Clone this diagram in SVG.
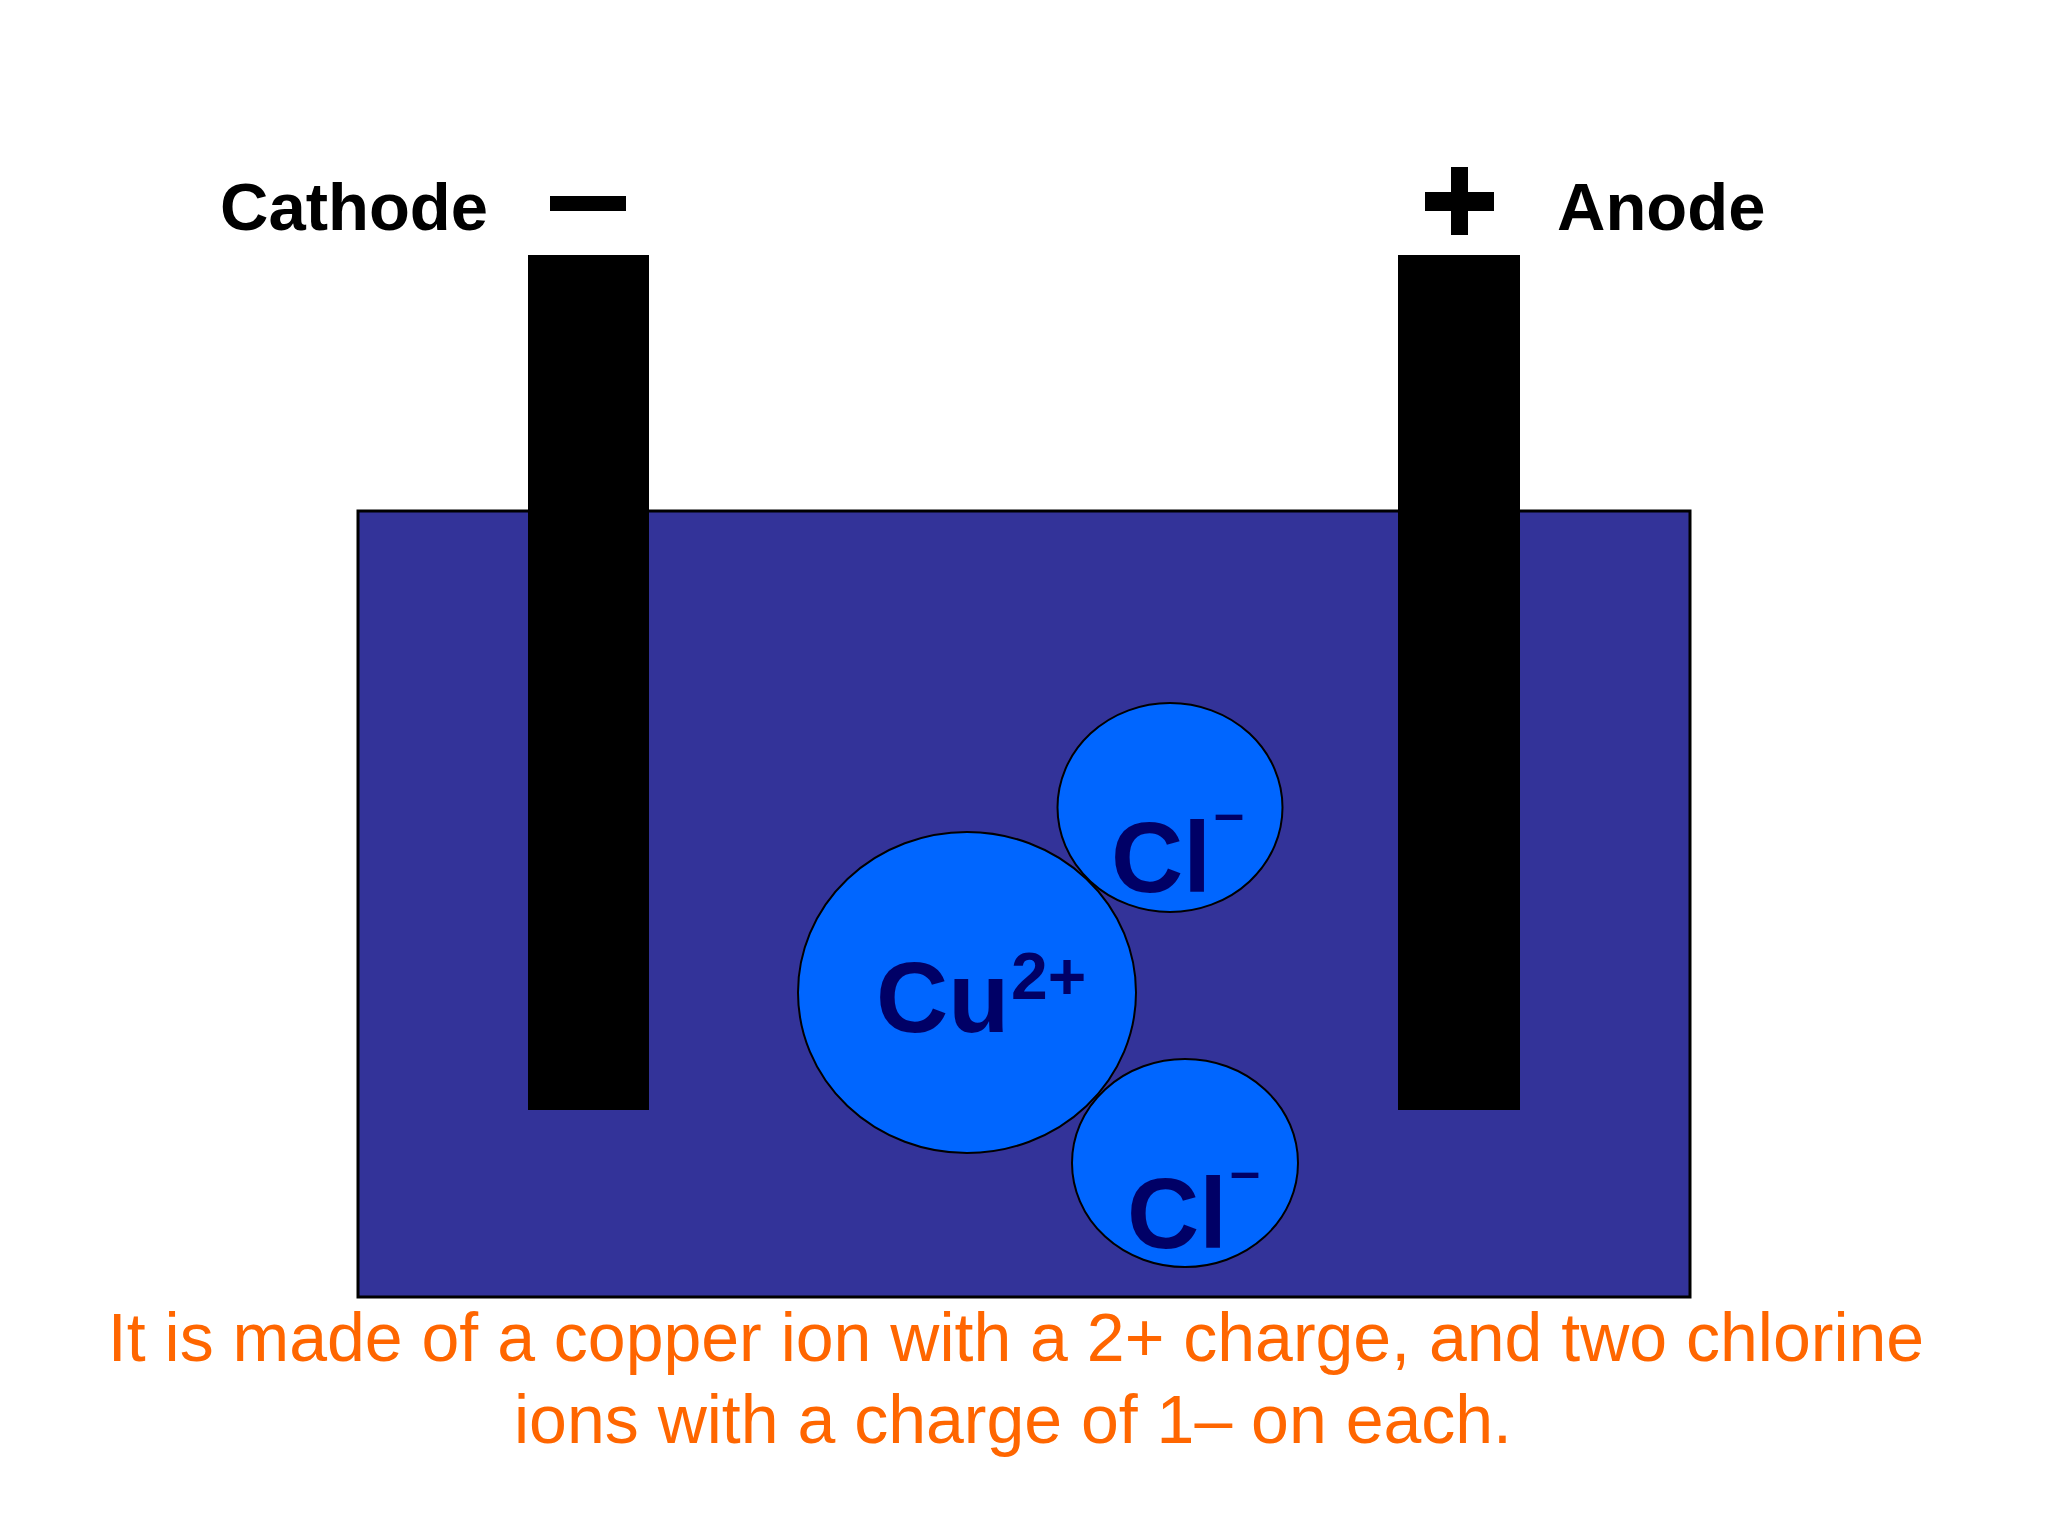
<svg xmlns="http://www.w3.org/2000/svg" width="2048" height="1536" viewBox="0 0 2048 1536">
<style>
.lbl{font-family:"Liberation Sans",Arial,sans-serif;font-weight:bold;fill:#000000;font-size:67px}
.ion{fill:#0066FF;stroke:#000000;stroke-width:2}
.iont{font-family:"Liberation Sans",Arial,sans-serif;font-weight:bold;fill:#000066;font-size:100px}
.sup{font-size:66px}
.dash{font-size:54px}
.cap{font-family:"Liberation Sans",Arial,sans-serif;fill:#FF6600;font-size:68px;text-anchor:middle}
</style>
<rect width="2048" height="1536" fill="#FFFFFF"/>
<g id="tank">
<rect x="358" y="511" width="1332" height="786" fill="#333399" stroke="#000000" stroke-width="3"/>
</g>
<g id="cathode">
<rect x="528" y="255" width="121" height="855" fill="#000000"/>
<text class="lbl" x="220" y="230">Cathode</text>
<rect x="550" y="196" width="76" height="15" fill="#000000"/>
</g>
<g id="anode">
<rect x="1398" y="255" width="122" height="855" fill="#000000"/>
<text class="lbl" x="1557" y="230">Anode</text>
<rect x="1451" y="167" width="17" height="68" fill="#000000"/>
<rect x="1425" y="192" width="69" height="19" fill="#000000"/>
</g>
<g id="cl-top">
<ellipse class="ion" cx="1170" cy="807.5" rx="112.5" ry="104.5"/>
<text class="iont" x="1111" y="892">Cl</text>
<text class="iont dash" x="1214" y="832">–</text>
</g>
<g id="cl-bottom">
<ellipse class="ion" cx="1185" cy="1163" rx="113" ry="104"/>
<text class="iont" x="1127" y="1248">Cl</text>
<text class="iont dash" x="1230" y="1190">–</text>
</g>
<g id="cu">
<ellipse class="ion" cx="967" cy="992.5" rx="169" ry="160.5"/>
<text class="iont" x="876" y="1032">Cu<tspan class="sup" x="1011" y="999">2+</tspan></text>
</g>
<g id="connectors"/>
<g id="caption">
<text class="cap" x="1016" y="1361">It is made of a copper ion with a 2+ charge, and two chlorine</text>
<text class="cap" x="1013" y="1443">ions with a charge of 1– on each.</text>
</g>
</svg>
